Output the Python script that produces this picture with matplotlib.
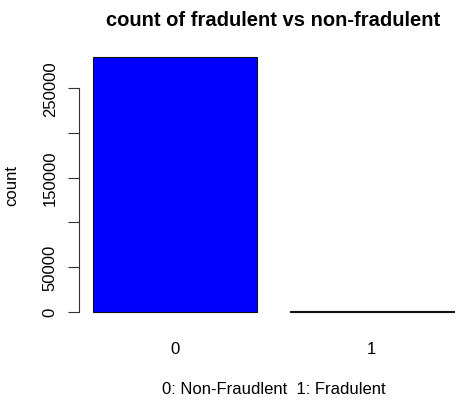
import matplotlib.pyplot as plt

# class counts (credit card fraud data)
classes = ["0", "1"]
counts = [284315, 492]
yticks = [0, 50000, 100000, 150000, 200000, 250000]
ytick_labels = ["0", "50000", "", "150000", "", "250000"]

plt.rcParams["font.family"] = ["Liberation Sans", "DejaVu Sans"]

fig = plt.figure(figsize=(4.74, 4.02), dpi=100)
ax = fig.add_axes([0.166, 0.1965, 0.8215, 0.684])

# R barplot style: width 1, space 0.2
lefts = [0.2 + i * 1.2 for i in range(len(counts))]
centers = [l + 0.5 for l in lefts]
ax.bar(centers, counts, width=1.0, color=["blue", "blue"], edgecolor="#111111", linewidth=0.8)

ax.set_xlim(0.112, 2.488)
ax.set_ylim(-0.04 * max(counts), 1.04 * max(counts))

for s in ["top", "right", "bottom"]:
    ax.spines[s].set_visible(False)
ax.spines["left"].set_bounds(0, 250000)
ax.spines["left"].set_color("#333333")

ax.set_yticks(yticks)
ax.set_yticklabels(ytick_labels, rotation=90, va="center", fontsize=12)
ax.tick_params(axis="y", length=8, color="#333333", pad=7)
ax.set_xticks(centers)
ax.set_xticklabels(classes, fontsize=12)
ax.tick_params(axis="x", length=0, pad=14)

ax.set_ylabel("count", fontsize=12, labelpad=17)
ax.set_xlabel("0: Non-Fraudlent  1: Fradulent", fontsize=12, labelpad=18)
ax.set_title("count of fradulent vs non-fradulent", fontsize=14.5, fontweight="bold", pad=16)

fig.savefig("out.png", dpi=100)
